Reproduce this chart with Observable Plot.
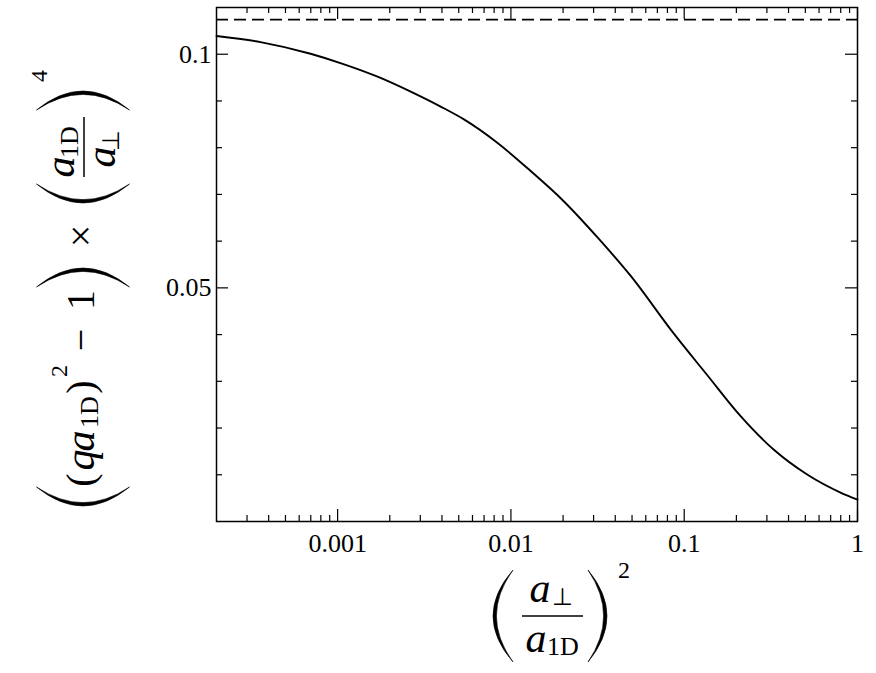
<!DOCTYPE html>
<html><head><meta charset="utf-8">
<script src="https://cdn.jsdelivr.net/npm/d3@7"></script>
<script src="https://cdn.jsdelivr.net/npm/@observablehq/plot@0.6"></script>
<style>body{margin:0;background:#fff}</style>
</head><body><div id="chart"></div>
<script>
// data
const xValues = [0.0002, 0.000359, 0.000698, 0.00108, 0.0017, 0.00264, 0.00393, 0.00533, 0.00838, 0.013, 0.0201, 0.0316, 0.049, 0.0867, 0.136, 0.211, 0.328, 0.515, 0.798, 1];
const yValues = [0.1039, 0.1026, 0.1001, 0.0979, 0.0952, 0.092, 0.0888, 0.0861, 0.081, 0.075, 0.0686, 0.0608, 0.0526, 0.0403, 0.0313, 0.0226, 0.0154, 0.0100, 0.0062, 0.0047];
const limitValue = [0.1074];
const xMajorTicks = [0.001, 0.01, 0.1, 1];
const xTickLabels = ["0.001", "0.01", "0.1", "1"];
const xMinorTicks = [3e-4, 4e-4, 5e-4, 6e-4, 7e-4, 8e-4, 9e-4, 2e-3, 3e-3, 4e-3, 5e-3, 6e-3, 7e-3, 8e-3, 9e-3, 0.02, 0.03, 0.04, 0.05, 0.06, 0.07, 0.08, 0.09, 0.2, 0.3, 0.4, 0.5, 0.6, 0.7, 0.8, 0.9];
const yMajorTicks = [0.05, 0.1];
const yTickLabels = ["0.05", "0.1"];
const yMinorTicks = [0.01, 0.02, 0.03, 0.04, 0.06, 0.07, 0.08, 0.09];

const W = 876, H = 673, mL = 216, mR = 19, mT = 7, mB = 152;
const plotH = H - mT - mB, plotW = W - mL - mR;
const curve = xValues.map((x, i) => ({x, y: yValues[i]}));
const majorLen = 12, minorLen = 6;
const tk = {stroke: "black", strokeWidth: 1.2};
const FF = "Liberation Serif";

const chart = Plot.plot({
  width: W, height: H,
  marginLeft: mL, marginRight: mR, marginTop: mT, marginBottom: mB,
  style: {background: "white", color: "black"},
  x: {type: "log", domain: [0.0002, 1], axis: null},
  y: {domain: [0, 0.11], axis: null},
  marks: [
    Plot.ruleY(limitValue, {stroke: "black", strokeWidth: 1.9, strokeDasharray: "12,6"}),
    Plot.line(curve, {x: "x", y: "y", stroke: "black", strokeWidth: 1.9, curve: "monotone-x"}),
    Plot.tickX(xMajorTicks, {x: d => d, insetTop: plotH - majorLen, ...tk}),
    Plot.tickX(xMajorTicks, {x: d => d, insetBottom: plotH - majorLen, ...tk}),
    Plot.tickX(xMinorTicks, {x: d => d, insetTop: plotH - minorLen, ...tk}),
    Plot.tickX(xMinorTicks, {x: d => d, insetBottom: plotH - minorLen, ...tk}),
    Plot.tickY(yMajorTicks, {y: d => d, insetRight: plotW - majorLen, ...tk}),
    Plot.tickY(yMajorTicks, {y: d => d, insetLeft: plotW - majorLen, ...tk}),
    Plot.tickY(yMinorTicks, {y: d => d, insetRight: plotW - minorLen, ...tk}),
    Plot.tickY(yMinorTicks, {y: d => d, insetLeft: plotW - minorLen, ...tk}),
    Plot.frame({stroke: "black", strokeWidth: 1.5}),
    Plot.text(xMajorTicks, {x: d => d, text: (d, i) => xTickLabels[i], frameAnchor: "bottom", lineAnchor: "top", textAnchor: "middle", dy: 12, fontSize: 26, fontFamily: FF, fill: "black"}),
    Plot.text(yMajorTicks, {y: d => d, text: (d, i) => yTickLabels[i], frameAnchor: "left", textAnchor: "end", lineAnchor: "middle", dx: -5, fontSize: 26, fontFamily: FF, fill: "black"})
  ]
});
document.getElementById("chart").appendChild(chart);

// ---- math axis labels ----
const svg = d3.select(chart);
function paren(g, side, x0, w, cy, h, t) {
  let d;
  if (side === "left") {
    d = `M${x0 + w},${cy - h / 2} Q${x0 - w},${cy} ${x0 + w},${cy + h / 2} Q${x0 - w + 2 * t},${cy} ${x0 + w},${cy - h / 2}Z`;
  } else {
    d = `M${x0},${cy - h / 2} Q${x0 + 2 * w},${cy} ${x0},${cy + h / 2} Q${x0 + 2 * w - 2 * t},${cy} ${x0},${cy - h / 2}Z`;
  }
  g.append("path").attr("d", d).attr("fill", "black").attr("stroke", "black").attr("stroke-width", 0.6);
}
function txt(g, s, x, y, size, italic) {
  g.append("text").attr("x", x).attr("y", y).attr("text-anchor", "middle")
    .attr("font-family", FF).attr("font-size", size).attr("font-style", italic ? "italic" : "normal")
    .attr("fill", "black").text(s);
}
function bar(g, x1, x2, y) {
  g.append("line").attr("x1", x1).attr("x2", x2).attr("y1", y).attr("y2", y).attr("stroke", "black").attr("stroke-width", 1.5);
}

// x label
const gx = svg.append("g");
paren(gx, "left", 493, 20, 616, 92, 3.4);
txt(gx, "a", 540, 602, 42, true);
txt(gx, "⊥", 562, 605, 24, false);
bar(gx, 522, 583, 616);
txt(gx, "a", 536, 652, 42, true);
txt(gx, "1D", 563, 655, 26, false);
paren(gx, "right", 588, 19, 616, 92, 3.4);
txt(gx, "2", 624, 578, 24, false);

// y label (rotated)
const gy = svg.append("g").attr("transform", "translate(94,508) rotate(-90)");
paren(gy, "left", 2, 19, -11, 93, 3.4);
txt(gy, "(", 28, 0, 40, false);
txt(gy, "q", 48, 0, 42, true);
txt(gy, "a", 67, 0, 42, true);
txt(gy, "1D", 96, 4, 26, false);
txt(gy, ")", 121, 0, 40, false);
txt(gy, "2", 137, -27, 24, false);
txt(gy, "−", 168, 0, 40, false);
txt(gy, "1", 208, 0, 40, false);
paren(gy, "right", 221, 19, -11, 93, 3.4);
txt(gy, "×", 272, 0, 40, false);
paren(gy, "left", 305, 19, -11, 93, 3.4);
txt(gy, "a", 341, -20, 42, true);
txt(gy, "1D", 366, -16, 26, false);
bar(gy, 331, 391, -10);
txt(gy, "a", 351, 21, 42, true);
txt(gy, "⊥", 368, 25, 24, false);
paren(gy, "right", 398, 19, -11, 93, 3.4);
txt(gy, "4", 432, -47, 24, false);
</script>
</body></html>
